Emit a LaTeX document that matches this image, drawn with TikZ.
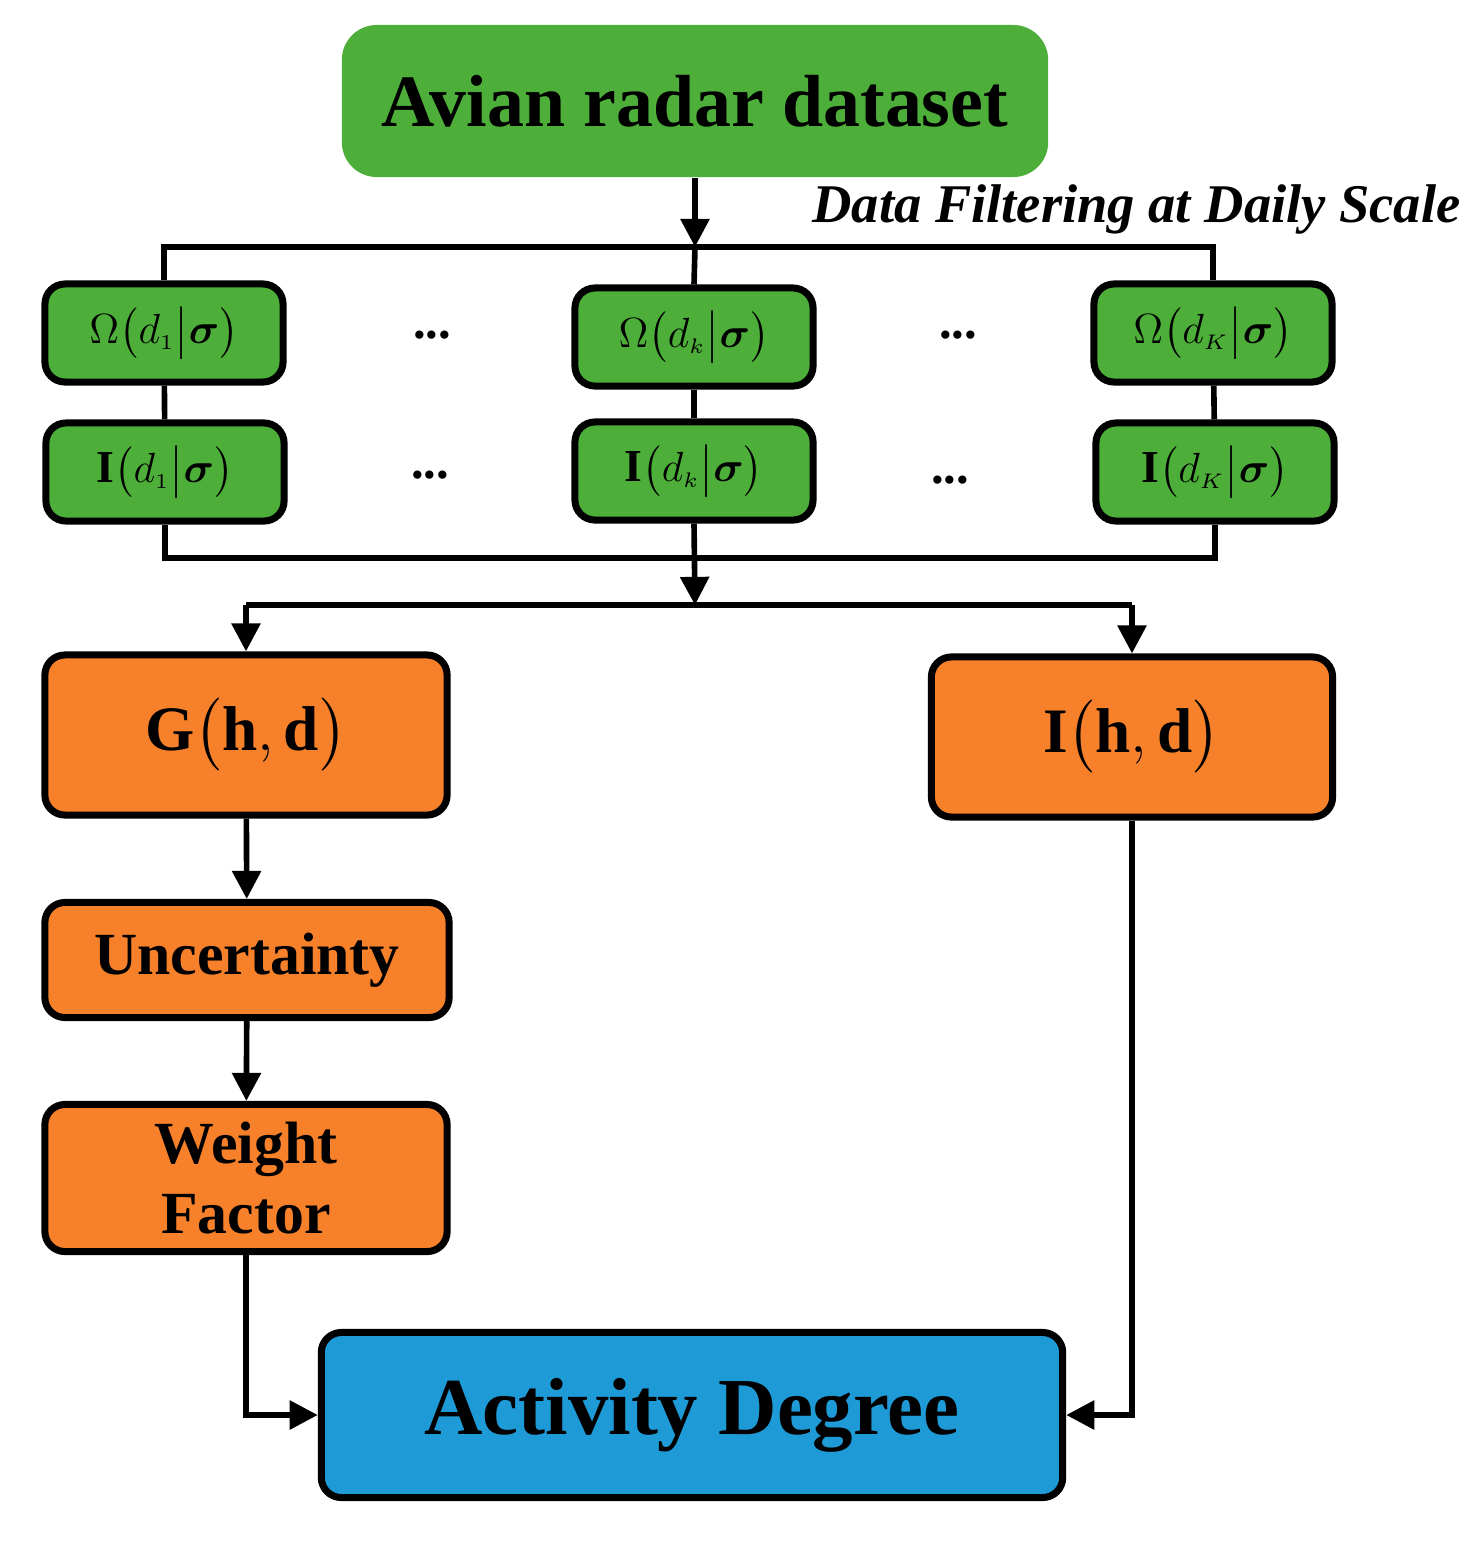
\documentclass[tikz,border=0pt]{standalone}
\usepackage{amsmath}
\usepackage{bm}
\usepackage{fontspec}
\setmainfont{Liberation Serif}
\usetikzlibrary{arrows.meta}
\definecolor{gr}{HTML}{4DAF3A}
\definecolor{og}{HTML}{F7812A}
\definecolor{bl}{HTML}{1E9AD6}
\begin{document}
\begin{tikzpicture}[x=0.01cm,y=-0.01cm,
  box/.style={draw=black,line width=2pt,rounded corners=0.2cm,inner sep=0pt,font=\bfseries},
  ln/.style={line width=1.6pt},
  ar/.style={ln,-{Triangle[length=8pt,width=8pt]}},
  dots/.style={font=\bfseries\Large}]
\useasboundingbox (0,0) rectangle (1481,1542);
\node[fill=gr,rounded corners=0.35cm,inner sep=0pt,font=\bfseries\fontsize{21}{26}\selectfont,minimum width=7.06cm,minimum height=1.52cm] (av) at (695,101) {Avian radar dataset};
\node[font=\bfseries\itshape\fontsize{15.5}{18}\selectfont,anchor=base west] (df) at (800,222) {Data Filtering at Daily Scale};
\tikzset{sm/.style={box,fill=gr,minimum width=2.38cm,minimum height=0.98cm,font=\fontsize{13}{15}\selectfont}}
\node[sm] (o1) at (164,333) {$\Omega\bigl(d_{\scriptscriptstyle 1}\big|\bm{\sigma}\bigr)$};
\node[sm] (ok) at (694,337) {$\Omega\bigl(d_{\scriptscriptstyle k}\big|\bm{\sigma}\bigr)$};
\node[sm] (oK) at (1213,333) {$\Omega\bigl(d_{\scriptscriptstyle K}\big|\bm{\sigma}\bigr)$};
\node[sm] (i1) at (165,472) {$\mathbf{I}\bigl(d_{\scriptscriptstyle 1}\big|\bm{\sigma}\bigr)$};
\node[sm] (ik) at (694,471) {$\mathbf{I}\bigl(d_{\scriptscriptstyle k}\big|\bm{\sigma}\bigr)$};
\node[sm] (iK) at (1215,472) {$\mathbf{I}\bigl(d_{\scriptscriptstyle K}\big|\bm{\sigma}\bigr)$};
\node[dots] (d1) at (432,335) {...};
\node[dots] (d2) at (958,335) {...};
\node[dots] (d3) at (430,475) {...};
\node[dots] (d4) at (950,480) {...};
\coordinate (t) at (695,247);
\coordinate (b) at (695,558);
\coordinate (c) at (695,605);
\draw[ar] (av.south) -- (t);
\draw[ln] (o1.north) |- (oK.north |- t) -- (oK.north);
\draw[ln] (t) -- (ok.north);
\draw[ln] (o1) -- (i1); \draw[ln] (ok) -- (ik); \draw[ln] (oK) -- (iK);
\draw[ln] (i1.south) |- (iK.south |- b) -- (iK.south);
\draw[ar] (ik.south) -- (c);
\tikzset{ob/.style={box,fill=og}}
\node[ob,minimum width=4.02cm,minimum height=1.6cm,font=\bfseries\fontsize{18}{20}\selectfont] (g) at (246,735) {$\mathbf{G}\bigl(\mathbf{h},\mathbf{d}\bigr)$};
\node[ob,minimum width=4.01cm,minimum height=1.6cm,font=\bfseries\fontsize{18}{20}\selectfont] (ih) at (1132,737) {$\mathbf{I}\bigl(\mathbf{h},\mathbf{d}\bigr)$};
\node[ob,minimum width=4.04cm,minimum height=1.15cm,font=\bfseries\fontsize{17}{18}\selectfont] (u) at (247,960) {Uncertainty};
\node[ob,minimum width=4.02cm,minimum height=1.47cm,align=center,font=\bfseries\fontsize{17}{20}\selectfont] (w) at (246,1178) {Weight\\Factor};
\node[box,fill=bl,minimum width=7.41cm,minimum height=1.65cm,font=\bfseries\fontsize{23}{26}\selectfont] (a) at (692,1415) {Activity Degree};
\draw[ln] (g.north |- c) -- (ih.north |- c);
\draw[ar] (g.north |- c) -- (g.north);
\draw[ar] (ih.north |- c) -- (ih.north);
\draw[ar] (g) -- (u);
\draw[ar] (u) -- (w);
\draw[ar] (w.south) |- (a.west);
\draw[ar] (ih.south) |- (a.east);
\end{tikzpicture}
\end{document}
